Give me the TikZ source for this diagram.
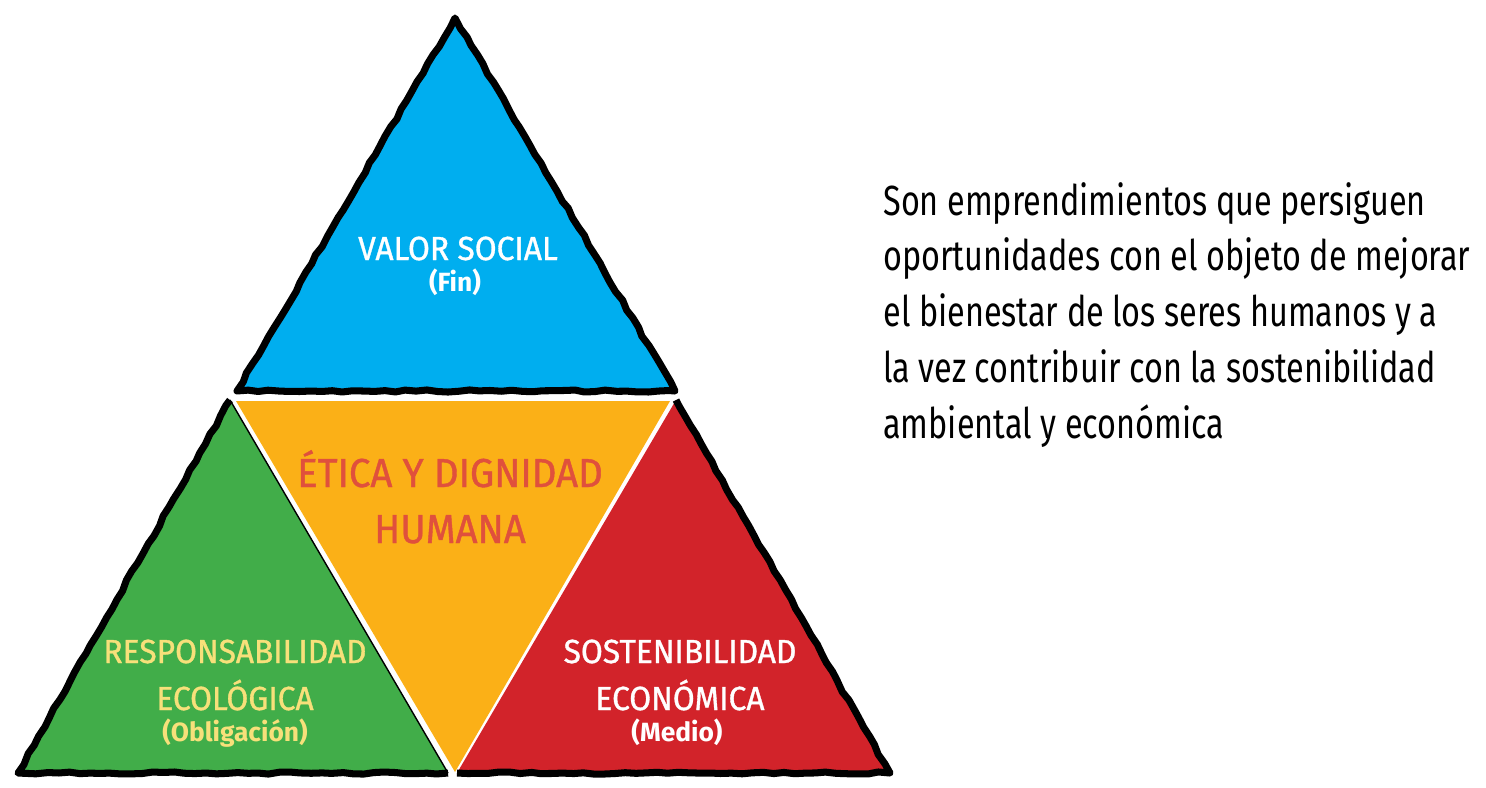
\documentclass[tikz,border=0pt]{standalone}
\usepackage{fontspec}
\setmainfont{Fira Sans}
\newfontfamily\bodyfont[FakeStretch=0.768]{Fira Sans}
\newfontfamily\handfont[FakeStretch=0.95,FakeBold=1]{Fira Sans}
\usetikzlibrary{decorations.pathmorphing}

\definecolor{social}{HTML}{00AEEF}
\definecolor{etica}{HTML}{FBB017}
\definecolor{ecologia}{HTML}{41AD49}
\definecolor{economia}{HTML}{D2232A}
\definecolor{eticatext}{HTML}{E0503C}
\definecolor{ecotext}{HTML}{F7E07A}

\begin{document}
\begin{tikzpicture}[x=0.2mm,y=-0.2mm]

\tikzset{%
  border/.style = {black,line width=4pt,line join=round,decorate,
                   decoration={random steps,segment length=6pt,amplitude=0.6pt}},
  hand/.style   = {font=\handfont\fontsize{19}{22}\selectfont,anchor=base},
  note/.style   = {font=\bfseries\fontsize{15}{17}\selectfont,anchor=base},
}

\useasboundingbox (0,0) rectangle (1486,787);

\coordinate(bt) at (455,18);  % Valor social
\coordinate(bl) at (237,391);
\coordinate(br) at (675,391);
\coordinate(ol) at (236,401); % Etica
\coordinate(or) at (670,401);
\coordinate(ob) at (455,772);
\coordinate(gt) at (230,400); % Responsabilidad
\coordinate(gl) at (18,773);
\coordinate(gr) at (448,773);
\coordinate(rt) at (676,400); % Sostenibilidad
\coordinate(rl) at (457,773);
\coordinate(rr) at (890,773);

% Etica y dignidad
\fill[etica] (ol) -- (or) -- (ob) -- cycle;

% Valor social
\fill[social] (bt) -- (bl) -- (br) -- cycle;
\draw[border] (bt) -- (bl) -- (br) -- cycle;

% Responsabilidad ecologica
\fill[ecologia] (gt) -- (gl) -- (gr) -- cycle;
\draw[border] (gr) -- (gl) -- (gt);
\draw[black,line width=0.8pt] (gt) -- (gr);

% Sostenibilidad economica
\fill[economia] (rt) -- (rl) -- (rr) -- cycle;
\draw[border] (rl) -- (rr) -- (rt);

% Labels
\node[hand,white] (valor) at (458,260) {VALOR SOCIAL};
\node[note,white] (fin)   at (455,291) {(Fin)};

\node[hand,eticatext,font=\handfont\fontsize{23}{26}\selectfont] (etica1) at (450,487) {ÉTICA Y DIGNIDAD};
\node[hand,eticatext,font=\handfont\fontsize{23}{26}\selectfont] (etica2) at (450,543) {HUMANA};

\node[hand,ecotext] (resp)  at (235,663) {RESPONSABILIDAD};
\node[hand,ecotext] (ecol)  at (235,710) {ECOLÓGICA};
\node[note,ecotext] (oblig) at (235,741) {(Obligación)};

\node[hand,white] (sost)  at (680,663) {SOSTENIBILIDAD};
\node[hand,white] (econ)  at (680,710) {ECONÓMICA};
\node[note,white] (medio) at (677,741) {(Medio)};

% Text
\node[anchor=north west,inner sep=0pt,align=left,
      font=\bodyfont\fontsize{24}{31.7}\selectfont] (texto) at (883,182)
  {Son emprendimientos que persiguen\\
   oportunidades con el objeto de mejorar\\
   el bienestar de los seres humanos y a\\
   la vez contribuir con la sostenibilidad\\
   ambiental y económica};

\end{tikzpicture}
\end{document}
